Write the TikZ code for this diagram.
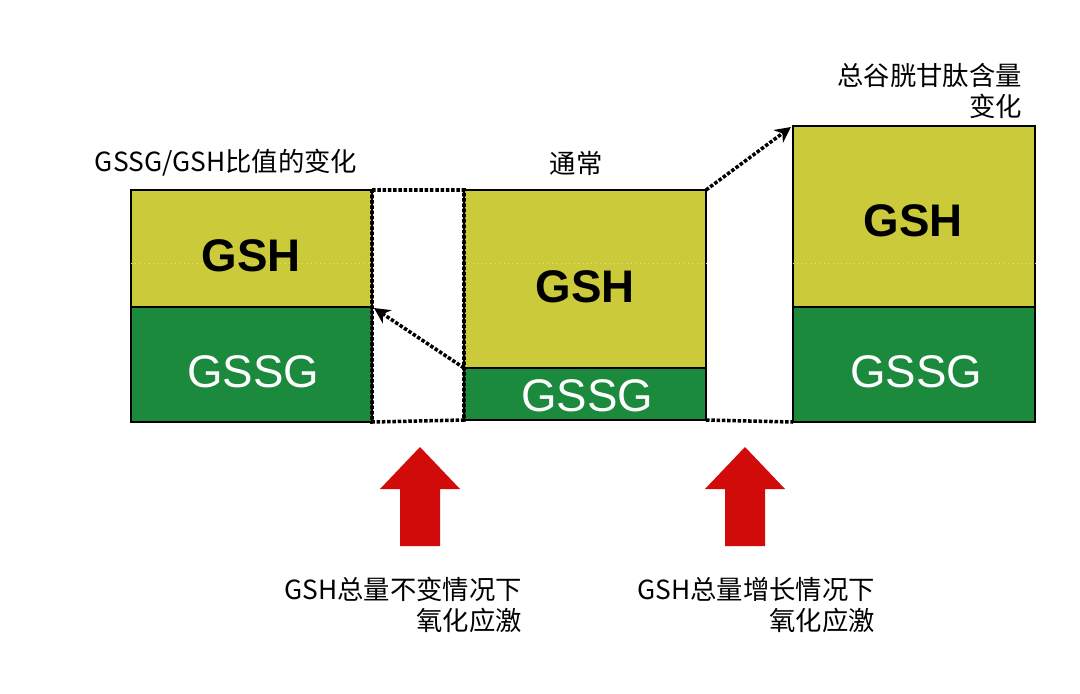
\documentclass[tikz,border=0pt]{standalone}
\usepackage{fontspec}
\setmainfont{Noto Sans CJK SC}
\newfontfamily\arialf{Liberation Sans}
\usetikzlibrary{arrows.meta}
\definecolor{gshc}{HTML}{CACA3A}
\definecolor{gssgc}{HTML}{1B8A3C}
\definecolor{redc}{HTML}{D10A0A}
\begin{document}
\begin{tikzpicture}[x=0.02cm,y=-0.02cm,
  gsh/.style={fill=gshc,draw=black,line width=0.8pt},
  gssg/.style={fill=gssgc,draw=black,line width=0.8pt},
  gshtxt/.style={font=\arialf\bfseries\fontsize{26}{28}\selectfont,text=black},
  gssgtxt/.style={font=\arialf\fontsize{26}{28}\selectfont,text=white},
  lbl/.style={font=\fontsize{15}{18}\selectfont,text=black},
  dot/.style={densely dotted,line width=2pt},
  darr/.style={dot,-{Stealth[length=9pt,width=9pt]}},
  mid/.style={draw=gshc!60!white,dotted,line width=0.5pt},
  up/.style={fill=redc,draw=none}]
\useasboundingbox (0,0) rectangle (1080,694);
% left
\draw[gsh] (131,190) rectangle (372,307);
\draw[gssg] (131,307) rectangle (372,422);
\draw[mid] (131,263) -- (372,263);
\node[gshtxt] (l1) at (251,256) {GSH};
\node[gssgtxt] (l2) at (253,372) {GSSG};
% middle
\draw[gsh] (464,190) rectangle (706,368);
\draw[gssg] (464,368) rectangle (706,420);
\draw[mid] (464,263) -- (706,263);
\node[gshtxt] (m1) at (585,287) {GSH};
\node[gssgtxt] (m2) at (587,396) {GSSG};
% right
\draw[gsh] (793,126) rectangle (1035,307);
\draw[gssg] (793,307) rectangle (1035,422);
\draw[mid] (793,263) -- (1035,263);
\node[gshtxt] (r1) at (913,221) {GSH};
\node[gssgtxt] (r2) at (916,372) {GSSG};
% dotted connectors
\coordinate (a1) at (372,190); \coordinate (a2) at (464,190);
\coordinate (a3) at (372,422); \coordinate (a4) at (464,420);
\draw[dot] (a1) -- (a2) -- (a4) -- (a3) -- cycle;
\coordinate (b1) at (706,420); \coordinate (b2) at (793,422);
\draw[dot] (b1) -- (b2);
\coordinate (c1) at (464,368); \coordinate (c2) at (374,308);
\draw[darr] (c1) -- (c2);
\coordinate (d1) at (706,190); \coordinate (d2) at (791,127);
\draw[darr] (d1) -- (d2);
% red arrows
\fill[up] (420,447) -- (460,489) -- (440,489) -- (440,546) -- (400,546) -- (400,489) -- (380,489) -- cycle;
\fill[up] (745,447) -- (785,489) -- (765,489) -- (765,546) -- (725,546) -- (725,489) -- (705,489) -- cycle;
% labels
\node[lbl] (t1) at (226,163) {GSSG/GSH比值的变化};
\node[lbl] (t2) at (576,163) {通常};
\node[lbl,anchor=east,align=right] (t3) at (1028,91) {总谷胱甘肽含量\\变化};
\node[lbl,anchor=east,align=right] (t4) at (528,605) {GSH总量不变情况下\\氧化应激};
\node[lbl,anchor=east,align=right] (t5) at (881,605) {GSH总量增长情况下\\氧化应激};
\end{tikzpicture}
\end{document}
